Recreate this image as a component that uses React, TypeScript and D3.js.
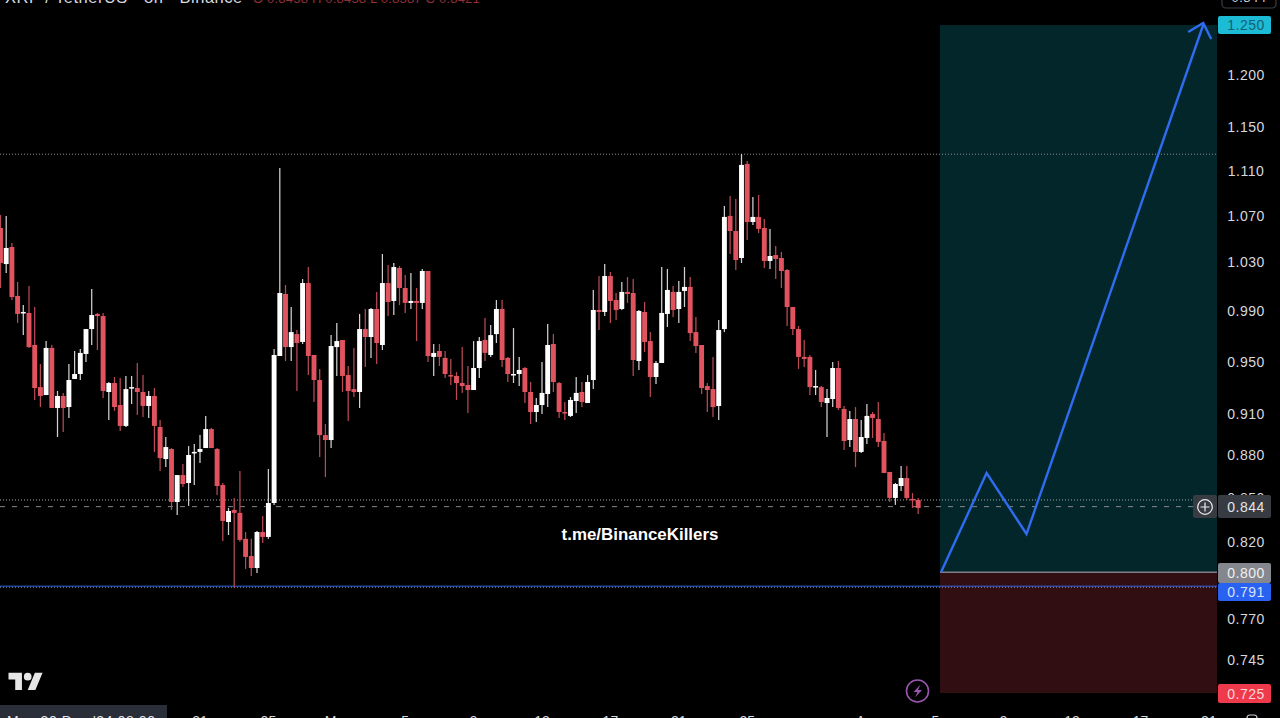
import React from "react";
import * as d3 from "d3";

const opens = [
  1.0593, 1.0286, 1.043, 1.0022, 0.9884, 0.9884, 0.9629, 0.9304, 0.9244, 0.9606,
  0.9147, 0.9237, 0.9154, 0.9366, 0.9404, 0.9559, 0.9755, 0.9876, 0.9859, 0.9267,
  0.9335, 0.9169, 0.9014, 0.9297, 0.9297, 0.9267, 0.9162, 0.9237, 0.9006, 0.8774,
  0.8846, 0.8472, 0.866, 0.8604, 0.8817, 0.8825, 0.8853, 0.8991, 0.8846, 0.859,
  0.8335, 0.8417, 0.8397, 0.8221, 0.8107, 0.8028, 0.8267, 0.8234, 0.8465, 0.9543,
  1.0038, 0.9613, 0.9715, 0.9653, 1.0128, 0.9551, 0.9358, 0.8947, 0.8911, 0.9613,
  0.9668, 0.9396, 0.9289, 0.9267, 0.9755, 0.9692, 0.9916, 0.9629, 1.0128, 0.9981,
  1.0253, 1.0087, 0.9965, 0.9981, 0.9965, 1.0228, 0.9536, 0.9582, 0.9528, 0.9396,
  0.9389, 0.9335, 0.932, 0.9282, 0.945, 0.9668, 0.9551, 0.9715, 0.9916, 0.9528,
  0.9396, 0.9404, 0.945, 0.9267, 0.9117, 0.9169, 0.9252, 0.9637, 0.9335, 0.9117,
  0.9088, 0.9199, 0.9267, 0.9184, 0.9358, 0.9908, 0.9892, 1.0186, 0.9989, 0.9916,
  1.0055, 1.0046, 0.9504, 0.9892, 0.966, 0.9381, 0.9489, 0.9876, 1.0055, 0.9916,
  1.0063, 1.0096, 0.9731, 0.9629, 0.9312, 0.9289, 0.9162, 0.9755, 1.0698, 1.0567,
  1.0337, 1.1161, 1.0645, 1.0689, 1.0593, 1.0312, 1.0362, 1.0337, 1.0236, 0.9932,
  0.9755, 0.9536, 0.9536, 0.9304, 0.9304, 0.9184, 0.9214, 0.945, 0.914, 0.8911,
  0.9065, 0.8825, 0.8926, 0.9102, 0.9065, 0.8904, 0.8682, 0.85, 0.8583, 0.8639,
  0.8493, 0.8486,
];

const highs = [
  1.0706, 1.0698, 1.0464, 1.0137, 0.9948, 1.0104, 0.9932, 0.9481, 0.966, 0.9629,
  0.9275, 0.926, 0.9481, 0.9582, 0.9598, 0.9755, 1.0079, 0.9884, 0.9884, 0.9343,
  0.9381, 0.9373, 0.9389, 0.9389, 0.9489, 0.9396, 0.9275, 0.9297, 0.9058, 0.8933,
  0.8853, 0.866, 0.8739, 0.8867, 0.8882, 0.8947, 0.9088, 0.8999, 0.8853, 0.8604,
  0.8431, 0.85, 0.8689, 0.8267, 0.8221, 0.8274, 0.8376, 0.8703, 0.9598, 1.1124,
  1.0112, 0.9932, 0.9747, 1.0161, 1.0261, 0.9551, 0.9443, 0.9028, 0.9707, 0.9803,
  0.9668, 0.9466, 0.9606, 0.9876, 0.9916, 0.9924, 1.0055, 1.0371, 1.0278, 1.0295,
  1.027, 1.0194, 1.0211, 1.0087, 1.0245, 1.0228, 0.9637, 0.9637, 0.9582, 0.952,
  0.942, 0.9613, 0.9466, 0.966, 0.9692, 0.9843, 0.9787, 0.9989, 0.9989, 0.9536,
  0.9763, 0.9536, 0.9458, 0.9343, 0.9222, 0.9497, 0.9795, 0.9715, 0.9343, 0.9192,
  0.9229, 0.9381, 0.9343, 0.9396, 1.0071, 1.0186, 1.0287, 1.022, 1.0046, 1.0137,
  1.0178, 1.0161, 0.9908, 0.9973, 0.9731, 0.9504, 1.0261, 1.0245, 1.0104, 1.0145,
  1.0261, 1.0178, 0.9851, 0.9629, 0.9335, 0.9536, 0.9827, 1.0785, 1.0873, 1.0847,
  1.1252, 1.1188, 1.0864, 1.0882, 1.0671, 1.0585, 1.0439, 1.0388, 1.0245, 0.9932,
  0.9779, 0.9668, 0.9551, 0.9435, 0.9312, 0.9289, 0.9497, 0.9504, 0.9162, 0.9125,
  0.9154, 0.9058, 0.9177, 0.9117, 0.9192, 0.8962, 0.8682, 0.8604, 0.8724, 0.8724,
  0.8534, 0.85,
];

const lows = [
  1.0087, 1.0211, 0.9989, 0.9803, 0.9707, 0.9606, 0.9207, 0.9154, 0.9244, 0.9147,
  0.8933, 0.8969, 0.9073, 0.9366, 0.9358, 0.9497, 0.9629, 0.959, 0.9222, 0.9058,
  0.9125, 0.8977, 0.9006, 0.9177, 0.9095, 0.908, 0.9073, 0.8825, 0.8689, 0.8717,
  0.8417, 0.8383, 0.8576, 0.8445, 0.859, 0.8746, 0.8853, 0.8853, 0.8521, 0.8207,
  0.8247, 0.7899, 0.8201, 0.8022, 0.7976, 0.7996, 0.8194, 0.8221, 0.8452, 0.9543,
  0.9504, 0.9504, 0.9275, 0.9637, 0.9396, 0.9192, 0.8789, 0.8646, 0.8853, 0.9389,
  0.9267, 0.9051, 0.9229, 0.9147, 0.9458, 0.9528, 0.9481, 0.959, 0.9859, 0.9867,
  0.9948, 0.9884, 0.9916, 0.966, 0.9916, 0.9497, 0.9389, 0.9466, 0.9373, 0.932,
  0.9207, 0.926, 0.911, 0.9282, 0.9373, 0.9504, 0.9536, 0.9645, 0.9458, 0.9343,
  0.9335, 0.9312, 0.9184, 0.9028, 0.9043, 0.9102, 0.9154, 0.9267, 0.9073, 0.9058,
  0.908, 0.911, 0.9154, 0.9184, 0.9289, 0.9747, 0.9859, 0.9803, 0.9827, 0.9908,
  0.9965, 0.9389, 0.9435, 0.9574, 0.9229, 0.9328, 0.9489, 0.9771, 0.9851, 0.9803,
  0.9932, 0.966, 0.9567, 0.9252, 0.9117, 0.908, 0.9058, 0.9731, 1.0371, 1.0236,
  1.0295, 1.049, 1.0619, 1.055, 1.0253, 1.0245, 1.0161, 1.0087, 0.9779, 0.9707,
  0.9443, 0.9458, 0.9244, 0.9244, 0.9154, 0.8933, 0.9154, 0.9132, 0.8839, 0.886,
  0.8717, 0.8817, 0.8882, 0.8926, 0.886, 0.8675, 0.8472, 0.8452, 0.8548, 0.8486,
  0.8431, 0.839,
];

const closes = [
  1.0295, 1.0422, 1.0013, 0.9876, 0.9892, 0.9613, 0.9297, 0.9237, 0.9606, 0.9147,
  0.9237, 0.9147, 0.9358, 0.9404, 0.9567, 0.9755, 0.9867, 0.9859, 0.9275, 0.9335,
  0.9154, 0.9014, 0.9289, 0.9304, 0.9267, 0.9162, 0.9237, 0.9014, 0.8781, 0.886,
  0.8472, 0.866, 0.8597, 0.8803, 0.8825, 0.8846, 0.8991, 0.8853, 0.8583, 0.8342,
  0.841, 0.8397, 0.8214, 0.8101, 0.8028, 0.8267, 0.8234, 0.8465, 0.9551, 1.0046,
  0.9613, 0.9731, 0.9645, 1.0128, 0.9543, 0.9358, 0.8947, 0.8911, 0.9621, 0.966,
  0.9389, 0.9275, 0.9267, 0.9755, 0.9692, 0.9916, 0.9645, 1.0128, 0.9973, 1.0261,
  1.0087, 0.9965, 0.9981, 0.9965, 1.0228, 0.9543, 0.9567, 0.9536, 0.9404, 0.9389,
  0.9335, 0.9312, 0.9282, 0.945, 0.966, 0.9567, 0.9707, 0.9916, 0.9512, 0.9404,
  0.9404, 0.9435, 0.9267, 0.9117, 0.9169, 0.926, 0.9629, 0.9343, 0.9117, 0.911,
  0.9207, 0.926, 0.9192, 0.9343, 0.9908, 0.9892, 1.0186, 0.9981, 0.9908, 1.0055,
  1.0038, 0.9512, 0.99, 0.9653, 0.9381, 0.9489, 0.9884, 1.0071, 0.9908, 1.0055,
  1.0096, 0.9723, 0.9621, 0.9297, 0.9282, 0.9154, 0.9747, 1.0689, 1.0567, 1.032,
  1.1152, 1.0645, 1.0689, 1.0585, 1.0312, 1.0354, 1.0329, 1.0228, 0.9932, 0.9755,
  0.9536, 0.952, 0.9304, 0.9312, 0.9192, 0.9222, 0.945, 0.9147, 0.8904, 0.9065,
  0.8825, 0.8933, 0.9088, 0.9073, 0.8897, 0.8675, 0.85, 0.8597, 0.8639, 0.85,
  0.8486, 0.8431,
];

// 0.850 sits behind the 0.844 price tag in the reference, only its top shows
const priceTicks = [1.2, 1.15, 1.11, 1.07, 1.03, 0.99, 0.95, 0.91, 0.88, 0.85, 0.82, 0.77, 0.745];
const timeLabels = ["21", "25", "Mar", "5", "9", "13", "17", "21", "25", "Apr", "5", "9", "13", "17", "21"];
const timeIndexes = [35, 47, 59, 71, 83, 95, 107, 119, 131, 152, 164, 176, 188, 200, 212];

const arrowIndexes = [165, 173, 180, 211];
const arrowPrices = [0.8, 0.8674, 0.8254, 1.25];

const entryPrice = 0.8;
const targetPrice = 1.25;
const stopPrice = 0.725;
const lastPrice = 0.844;
const supportPrice = 0.791;
const upperLevel = 1.125;
const lowerLevel = 0.8486;

const FONT = "'Liberation Sans', Arial, sans-serif";
const RED = "#e0535f";
const BLUE = "#2f6cf0";

export default function App() {
  const x = d3.scaleLinear().domain([0, 161]).range([0.5, 918.2]);
  const y = d3.scaleLog().domain([stopPrice, targetPrice]).range([693, 25]);

  const arrow = d3
    .line<number>()
    .x((d) => x(d))
    .y((_, i) => y(arrowPrices[i]));

  const plotRight = 1217;
  const boxLeft = x(165) - 1;
  const tipX = x(arrowIndexes[3]);
  const tipY = y(arrowPrices[3]) - 2;

  const priceLabel = (value: number, fill: string, color: string, h: number, top: number) => (
    <g key={value}>
      <rect x={1218} y={top} width={53} height={h} rx={2} fill={fill} />
      <text x={1246} y={top + h / 2 + 5} textAnchor="middle" fontSize={14} letterSpacing={0.5} fill={color}>
        {value.toFixed(3)}
      </text>
    </g>
  );

  return (
    <svg
      width={1280}
      height={718}
      style={{ position: "absolute", left: 0, top: 0, display: "block", background: "#000" }}
      fontFamily={FONT}
    >
      <rect width={1280} height={718} fill="#000" />

      {/* long position box */}
      <rect x={boxLeft} y={y(targetPrice)} width={plotRight - boxLeft} height={y(entryPrice) - y(targetPrice)} fill="#02262a" />
      <rect x={boxLeft} y={y(entryPrice)} width={plotRight - boxLeft} height={y(stopPrice) - y(entryPrice)} fill="#300e12" />
      <line x1={boxLeft} x2={plotRight} y1={y(entryPrice)} y2={y(entryPrice)} stroke="#7d8085" strokeWidth={1.4} />

      {/* horizontal levels */}
      <line x1={0} x2={plotRight} y1={y(upperLevel)} y2={y(upperLevel)} stroke="#8b8d90" strokeDasharray="1 2" />
      <line x1={0} x2={1193} y1={y(lowerLevel)} y2={y(lowerLevel)} stroke="#a5a7aa" strokeDasharray="1 2" />
      <line x1={0} x2={1193} y1={y(lastPrice)} y2={y(lastPrice)} stroke="#85888c" strokeDasharray="5 7" />
      <line x1={0} x2={plotRight} y1={y(supportPrice) + 1} y2={y(supportPrice) + 1} stroke="#9aa0b8" strokeDasharray="1 2" />
      <line x1={0} x2={plotRight} y1={y(supportPrice)} y2={y(supportPrice)} stroke="#2f63e6" strokeWidth={1} />

      {/* candles */}
      {opens.map((open, i) => {
        const down = closes[i] < open;
        const top = y(Math.max(open, closes[i]));
        const bottom = y(Math.min(open, closes[i]));
        return (
          <g key={i}>
            <line
              x1={x(i)}
              x2={x(i)}
              y1={y(highs[i])}
              y2={y(lows[i])}
              stroke={down ? "#b94a56" : "#d0d0d0"}
              strokeWidth={1.25}
            />
            <rect
              x={x(i) - 2.45}
              y={top}
              width={4.9}
              height={Math.max(bottom - top, 1.5)}
              fill={down ? RED : "#ffffff"}
            />
          </g>
        );
      })}

      {/* drawn forecast path */}
      <path
        d={arrow(arrowIndexes) ?? ""}
        fill="none"
        stroke={BLUE}
        strokeWidth={2.4}
        strokeLinejoin="miter"
      />
      <path
        d={`M${tipX - 15},${tipY + 9}L${tipX},${tipY}L${tipX + 8},${tipY + 16}`}
        fill="none"
        stroke={BLUE}
        strokeWidth={2.4}
      />

      <text x={640} y={539.5} textAnchor="middle" fontSize={16.9} fontWeight={700} fill="#ffffff">
        t.me/BinanceKillers
      </text>

      {/* header, cut off by the crop */}
      <text x={5} y={2.5} fontSize={16.5} letterSpacing={0.5} fill="#d8dae0">
        XRP / TetherUS · 8h · Binance
      </text>
      <text x={253} y={2.5} fontSize={13} letterSpacing={0.2} fill="#8f2f38">
        O 0.8458 H 0.8458 L 0.8387 C 0.8421
      </text>

      {/* TradingView mark */}
      <g transform="translate(8.5,669) scale(0.96)" fill="#e6e6e6">
        <path d="M14 22H7V11H0V4h14v18zM28 22h-8l7.5-18h8L28 22z" />
        <circle cx="20" cy="8" r="4" />
      </g>

      {/* price scale */}
      {priceTicks.map((tick) => (
        <text
          key={tick}
          x={1246}
          y={y(tick) + 5}
          textAnchor="middle"
          fontSize={14}
          letterSpacing={0.5}
          fill="#d6d8de"
        >
          {tick.toFixed(3)}
        </text>
      ))}
      <rect x={1222} y={-12} width={54} height={20} rx={4} fill="#000" stroke="#3c3f46" strokeWidth={1.2} />
      <text x={1249} y={2} textAnchor="middle" fontSize={13} letterSpacing={0.5} fill="#d6d8de">
        0.844
      </text>
      {priceLabel(targetPrice, "#1cbbd6", "#155f73", 18, 16)}
      {priceLabel(lastPrice, "#383b42", "#e4e5e8", 23, 495)}
      {priceLabel(entryPrice, "#85878e", "#f0f0f2", 20, 563)}
      {priceLabel(supportPrice, "#2962f0", "#d8e2fb", 18, 583)}
      {priceLabel(stopPrice, "#ef3a4c", "#fbd6da", 19, 684)}

      {/* crosshair plus button */}
      <rect x={1193} y={495} width={24} height={23} rx={2} fill="#383b42" />
      <circle cx={1205} cy={507} r={7.3} fill="none" stroke="#eeeeee" strokeWidth={1.2} />
      <path d="M1205,502.5V511.5M1200.5,507H1209.5" stroke="#eeeeee" strokeWidth={1.2} />

      {/* lightning badge */}
      <circle cx={917.5} cy={691} r={11} fill="#000" stroke="#9a55b0" strokeWidth={1.6} />
      <path d="M920.5,684.5L913.5,692H917.5L915,697.5L922,690H918Z" fill="#9a55b0" />

      {/* time scale, cut off at the bottom */}
      <rect x={0} y={705} width={167} height={20} fill="#2a2e39" />
      <text x={7} y={726} fontSize={14} letterSpacing={0.6} fill="#e4e5e8">
        Mon 30 Dec '24  08:00
      </text>
      {timeLabels.map((label, i) => (
        <text
          key={i}
          x={x(timeIndexes[i])}
          y={726}
          textAnchor="middle"
          fontSize={14}
          fill="#d6d8de"
        >
          {label}
        </text>
      ))}
      <rect x={1247} y={715} width={10} height={12} rx={3} fill="none" stroke="#c8cad0" strokeWidth={1.2} />
    </svg>
  );
}
